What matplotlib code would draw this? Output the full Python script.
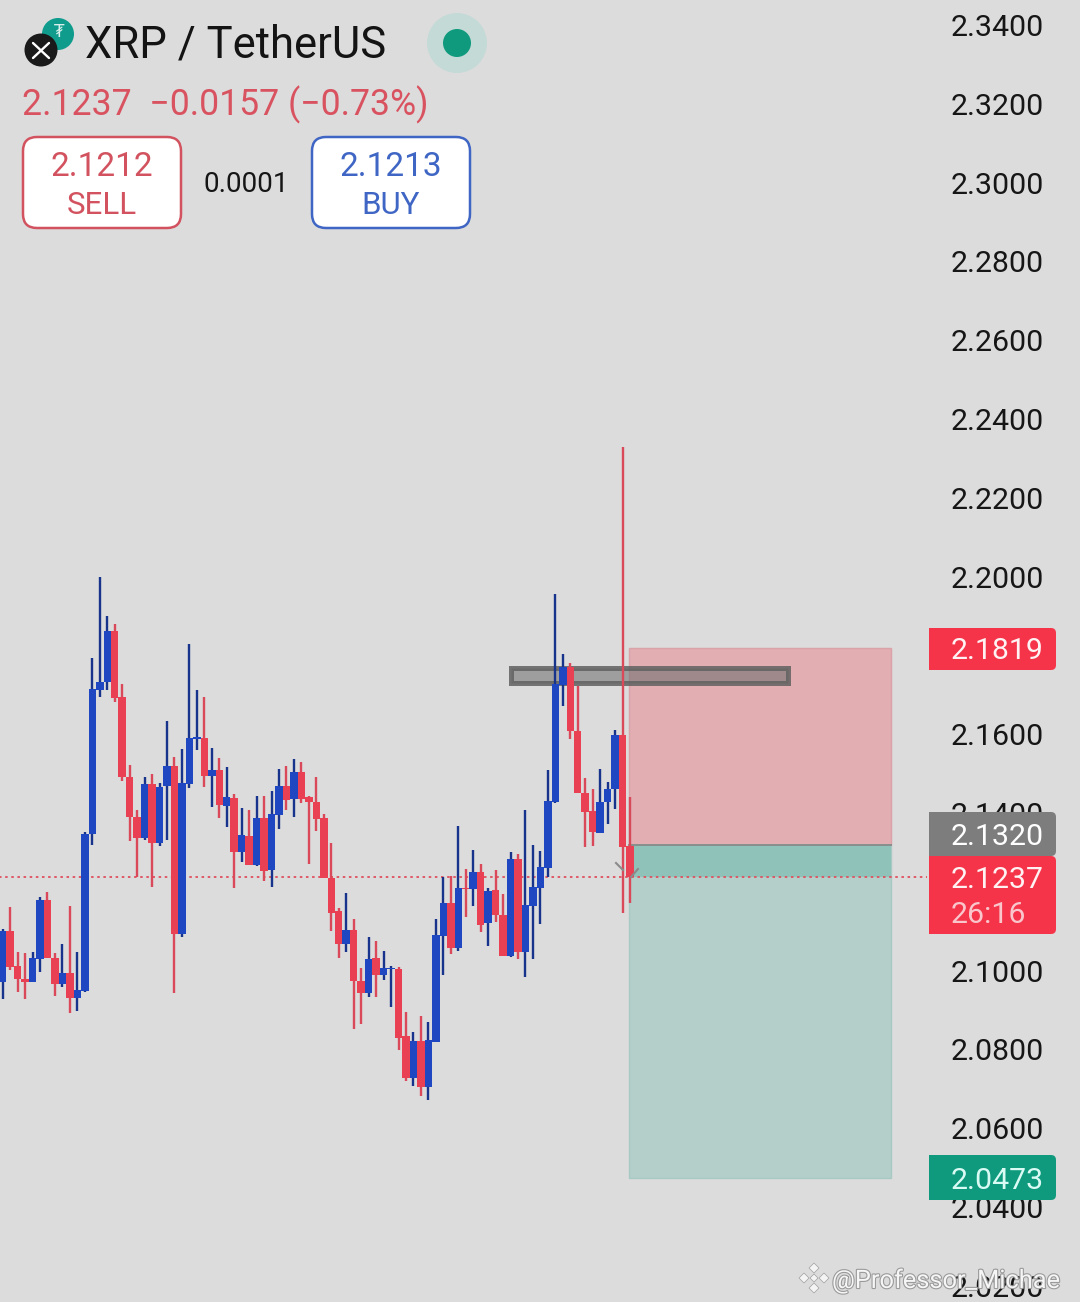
"""XRP / TetherUS candlestick screenshot with a short position overlay."""

import matplotlib
matplotlib.use("Agg")
import matplotlib.pyplot as plt
import matplotlib.patheffects as pe
from matplotlib.patches import Circle, FancyBboxPatch, Polygon, Rectangle
import numpy as np

plt.rcParams["font.family"] = ["Roboto", "DejaVu Sans"]

highs = [2.1105, 2.1161, 2.1048, 2.1044, 2.1048, 2.1188, 2.1199, 2.1045, 2.1067, 2.1164,
         2.1048, 2.1351, 2.1793, 2.1998, 2.1900, 2.1879, 2.1727, 2.1522, 2.1408, 2.1491,
         2.1499, 2.1475, 2.1633, 2.1543, 2.1562, 2.1829, 2.1712, 2.1695, 2.1564, 2.1539,
         2.1516, 2.1448, 2.1414, 2.1408, 2.1443, 2.1443, 2.1456, 2.1512, 2.1519, 2.1536,
         2.1530, 2.1443, 2.1492, 2.1398, 2.1323, 2.1158, 2.1198, 2.1131, 2.1006, 2.1086,
         2.1075, 2.1051, 2.1012, 2.1008, 2.0895, 2.0843, 2.0885, 2.0869, 2.1130, 2.1238,
         2.1240, 2.1367, 2.1259, 2.1306, 2.1270, 2.1209, 2.1255, 2.1194, 2.1301, 2.1296,
         2.1408, 2.1319, 2.1304, 2.1509, 2.1956, 2.1804, 2.1780, 2.1722, 2.1489, 2.1460,
         2.1511, 2.1479, 2.1611, 2.2329, 2.1441]
lows = [2.0927, 2.1002, 2.0946, 2.0927, 2.0971, 2.0997, 2.1031, 2.0936, 2.0959, 2.0893,
        2.0898, 2.0946, 2.1319, 2.1694, 2.1712, 2.1683, 2.1482, 2.1330, 2.1238, 2.1332,
        2.1213, 2.1317, 2.1332, 2.0944, 2.1086, 2.1464, 2.1560, 2.1465, 2.1416, 2.1387,
        2.1365, 2.1211, 2.1276, 2.1268, 2.1266, 2.1228, 2.1213, 2.1359, 2.1408, 2.1389,
        2.1425, 2.1271, 2.1355, 2.1234, 2.1101, 2.1033, 2.1048, 2.0853, 2.0864, 2.0934,
        2.0934, 2.0976, 2.0908, 2.0798, 2.0721, 2.0708, 2.0683, 2.0672, 2.0820, 2.0989,
        2.1042, 2.1051, 2.1137, 2.1165, 2.1099, 2.1063, 2.1124, 2.1038, 2.1035, 2.1029,
        2.0985, 2.1030, 2.1118, 2.1238, 2.1426, 2.1672, 2.1588, 2.1450, 2.1313, 2.1317,
        2.1350, 2.1372, 2.1411, 2.1147, 2.1172]
body_tops = [2.1101, 2.1101, 2.1012, 2.0979, 2.1032, 2.1179, 2.1179, 2.1031, 2.0993, 2.0993,
             2.0950, 2.1347, 2.1714, 2.1732, 2.1863, 2.1862, 2.1694, 2.1491, 2.1390, 2.1474,
             2.1474, 2.1467, 2.1519, 2.1519, 2.1475, 2.1590, 2.1592, 2.1590, 2.1509, 2.1509,
             2.1441, 2.1437, 2.1344, 2.1342, 2.1387, 2.1387, 2.1398, 2.1469, 2.1469, 2.1504,
             2.1504, 2.1441, 2.1428, 2.1387, 2.1235, 2.1152, 2.1102, 2.1103, 2.0973, 2.1030,
             2.1031, 2.1007, 2.1006, 2.1004, 2.0834, 2.0821, 2.0821, 2.0824, 2.1090, 2.1172,
             2.1172, 2.1210, 2.1210, 2.1250, 2.1250, 2.1201, 2.1204, 2.1140, 2.1283, 2.1283,
             2.1166, 2.1212, 2.1262, 2.1430, 2.1727, 2.1770, 2.1771, 2.1609, 2.1450, 2.1404,
             2.1427, 2.1460, 2.1598, 2.1598, 2.1316]
body_bottoms = [2.0972, 2.1010, 2.0979, 2.0971, 2.0971, 2.1030, 2.1031, 2.0967, 2.0967, 2.0930,
                2.0930, 2.0949, 2.1346, 2.1712, 2.1732, 2.1693, 2.1491, 2.1390, 2.1337, 2.1337,
                2.1325, 2.1325, 2.1469, 2.1093, 2.1093, 2.1474, 2.1587, 2.1494, 2.1494, 2.1420,
                2.1418, 2.1302, 2.1302, 2.1268, 2.1268, 2.1254, 2.1255, 2.1396, 2.1433, 2.1435,
                2.1436, 2.1428, 2.1386, 2.1234, 2.1147, 2.1068, 2.1068, 2.0973, 2.0944, 2.0944,
                2.0990, 2.0990, 2.1003, 2.0830, 2.0727, 2.0727, 2.0705, 2.0705, 2.0820, 2.1089,
                2.1058, 2.1058, 2.1207, 2.1206, 2.1117, 2.1120, 2.1140, 2.1038, 2.1037, 2.1047,
                2.1047, 2.1165, 2.1210, 2.1261, 2.1428, 2.1724, 2.1609, 2.1450, 2.1403, 2.1353,
                2.1350, 2.1427, 2.1460, 2.1315, 2.1237]
rising = [1, 0, 0, 0, 1, 1, 0, 0, 1, 0, 1, 1, 1, 1, 1, 0, 0, 0, 0, 1,
          0, 1, 1, 0, 1, 1, 1, 0, 1, 0, 1, 0, 1, 0, 1, 0, 1, 1, 0, 1,
          0, 0, 0, 0, 0, 0, 1, 0, 0, 1, 0, 1, 1, 0, 0, 1, 0, 1, 1, 1,
          0, 1, 0, 1, 0, 1, 0, 0, 1, 0, 1, 1, 1, 1, 1, 1, 0, 0, 0, 0,
          1, 1, 1, 0, 0]

price_ticks = [2.34, 2.32, 2.30, 2.28, 2.26, 2.24, 2.22, 2.20, 2.18, 2.16,
               2.14, 2.12, 2.10, 2.08, 2.06, 2.04, 2.02]

last_price = 2.1237
stop_price = 2.1819
entry_price = 2.1320
target_price = 2.0473
zone_left, zone_right = 83.9, 119.0
box_left, box_right = 68.1, 105.1
box_top, box_bottom = 2.1767, 2.1729

BACKGROUND = "#dcdcdc"
BLUE = "#1f47c1"
RED = "#ea4053"
BLUE_WICK = "#17338c"
RED_WICK = "#d9495a"
PRICE_RED = "#d9525f"
TAG_RED = "#f5344a"
TAG_GREEN = "#0f9a7e"
TAG_GRAY = "#7d7d7d"

figure = plt.figure(figsize=(10.8, 13.02), dpi=100, facecolor=BACKGROUND)
axis = figure.add_axes([0, 0, 1, 1], facecolor=BACKGROUND)
axis.set_xlim(-0.36, 144.25)
axis.set_ylim(2.0159, 2.34635)
for spine in axis.spines.values():
    spine.set_visible(False)
axis.set_xticks([])
axis.yaxis.tick_right()
axis.set_yticks(price_ticks, [f"{tick:.4f}" for tick in price_ticks])
axis.tick_params(axis="y", length=0, pad=-26.0, labelsize=21.8, labelcolor="#161616")
for label in axis.get_yticklabels():
    label.set_ha("right")

indices = np.arange(len(highs))
tops = np.array(body_tops)
bottoms = np.array(body_bottoms)
up = np.array(rising, dtype=bool)

# position zones sit under the candles, the last candle still shows through
axis.add_patch(Rectangle((zone_left, entry_price), zone_right - zone_left, stop_price - entry_price,
                         facecolor="#e2aeb2", edgecolor="#dba3a8", linewidth=1, zorder=1))
axis.add_patch(Rectangle((zone_left, target_price), zone_right - zone_left, entry_price - target_price,
                         facecolor="#b4cfca", edgecolor="#a9c9c3", linewidth=1, zorder=1))
axis.add_patch(Rectangle((zone_left, last_price), zone_right - zone_left, entry_price - last_price,
                         facecolor="#8fc3b9", edgecolor="none", zorder=1.1))
axis.plot([zone_left, zone_right], [entry_price, entry_price], color="#878f8c", linewidth=1.4, zorder=1.2)
axis.add_patch(Rectangle((box_left, box_bottom), box_right - box_left, box_top - box_bottom,
                         facecolor=(0.42, 0.42, 0.42, 0.55), edgecolor=(0.38, 0.38, 0.38, 0.85),
                         linewidth=3.6, zorder=1.5))

axis.hlines(last_price, -1, 123.7, color="#e0505f", linewidth=1.3, linestyles=(0, (1.4, 2.0)), zorder=2)
axis.vlines(indices, lows, highs, colors=[BLUE_WICK if flag else RED_WICK for flag in up],
            linewidth=1.7, zorder=3)
axis.bar(indices, tops - bottoms, bottom=bottoms, width=1.0,
         color=[BLUE if flag else RED for flag in up], linewidth=0, zorder=4)

# everything that is screen furniture is placed in pixels on a second axes
overlay = figure.add_axes([0, 0, 1, 1], facecolor="none")
overlay.set_xlim(0, 1080)
overlay.set_ylim(1302, 0)
overlay.axis("off")


def add_tag(top, bottom, color):
    overlay.add_patch(FancyBboxPatch((934, top + 5), 117, bottom - top - 10,
                                     boxstyle="round,pad=5", facecolor=color, edgecolor="none"))
    overlay.add_patch(Rectangle((929, top), 60, bottom - top, facecolor=color, edgecolor="none"))


def tag_text(y, text, color="#ffffff"):
    overlay.text(951, y, text, color=color, fontsize=21.8, va="center_baseline", ha="left")


add_tag(628, 670, TAG_RED)
tag_text(648, "2.1819", "#fff2f3")
add_tag(812, 856, TAG_GRAY)
tag_text(834, "2.1320")
add_tag(856, 934, TAG_RED)
tag_text(877, "2.1237", "#fff2f3")
tag_text(912, "26:16", "#f9c6cb")
add_tag(1155, 1200, TAG_GREEN)
tag_text(1178, "2.0473", "#d9fbf4")

# header
overlay.add_patch(Circle((58, 34), 16, facecolor="#0f9c8c", edgecolor="none"))
overlay.text(59, 32, "₮", color="#d8efeb", fontsize=12, ha="center", va="center", family=["DejaVu Sans"])
overlay.add_patch(Circle((41, 50), 16.5, facecolor="#1a1a1a", edgecolor="none"))
overlay.plot([33, 49], [43, 58], color="white", linewidth=1.7, solid_capstyle="round")
overlay.plot([49, 33], [43, 58], color="white", linewidth=1.7, solid_capstyle="round")
overlay.text(85, 41, "XRP / TetherUS", color="#141414", fontsize=31.4, va="center_baseline", ha="left")
overlay.add_patch(Circle((457, 43), 30, facecolor="#c4dad6", edgecolor="none"))
overlay.add_patch(Circle((457, 43), 14, facecolor="#0f9a7e", edgecolor="none"))
overlay.text(22, 101, "2.1237  −0.0157 (−0.73%)", color=PRICE_RED, fontsize=25.7,
             va="center_baseline", ha="left")

for left, edge, price, side in [(23, "#d2535f", "2.1212", "SELL"), (312, "#3f66c4", "2.1213", "BUY")]:
    overlay.add_patch(FancyBboxPatch((left + 14, 151), 130, 63, boxstyle="round,pad=14",
                                     facecolor="white", edgecolor=edge, linewidth=1.8))
    overlay.text(left + 79, 164, price, color=edge, fontsize=24, ha="center", va="center_baseline")
    overlay.text(left + 79, 203, side, color=edge, fontsize=22.5, ha="center", va="center_baseline")
overlay.text(246, 181, "0.0001", color="#161616", fontsize=20, ha="center", va="center_baseline")

# little chevrons of the last-price marker
overlay.plot([616, 623], [863, 870], color="#8b8b8b", linewidth=1.5)
overlay.plot([631, 638], [877, 869], color="#8b8b8b", linewidth=1.5)

# watermark
halo = [pe.withStroke(linewidth=1.6, foreground="#9a9a9a")]
for cx, cy, size in [(814, 1268, 5), (804, 1278, 5), (824, 1278, 5), (814, 1288, 5), (814, 1278, 4)]:
    overlay.add_patch(Polygon([(cx, cy - size), (cx + size, cy), (cx, cy + size), (cx - size, cy)],
                              facecolor="#f4f4f4", edgecolor="#a0a0a0", linewidth=0.5))
overlay.text(832, 1278, "@Professor_Michae", color="#f6f6f6", fontsize=18.3, ha="left",
             va="center_baseline", path_effects=halo)

figure.savefig("out.png", dpi=100, facecolor=BACKGROUND)
plt.close(figure)
